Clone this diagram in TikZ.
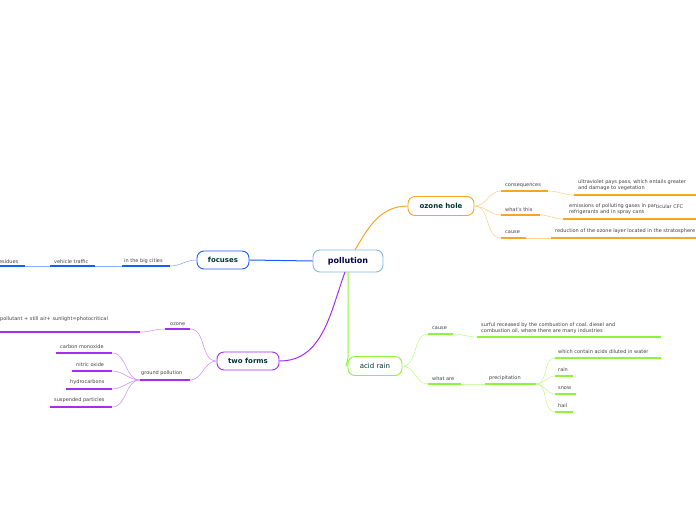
\documentclass[tikz,border=0pt]{standalone}
\usepackage{fontspec}
\setmainfont{DejaVu Sans}
\begin{document}
\begin{tikzpicture}[x=1pt,y=-1pt,
  lbl/.style={font=\fontsize{5}{6}\selectfont,text=black!75,inner sep=0pt,anchor=south west,align=left},
  main/.style={draw,rounded corners=7pt,line width=0.9pt,minimum height=20pt,font=\bfseries\fontsize{7}{8}\selectfont,text=teal!40!black},
  ul/.style={line width=1.4pt},
  cn/.style={line width=0.6pt}]
\useasboundingbox (0,0) rectangle (696,520);
\clip (0,0) rectangle (696,520);
\definecolor{cB}{HTML}{1A5CFF}\definecolor{cP}{HTML}{A52CF2}
\definecolor{cO}{HTML}{F5A623}\definecolor{cG}{HTML}{8CF53A}
\definecolor{cR}{HTML}{7FB8E6}
% central
\node[main,draw=cR,minimum width=70pt,minimum height=22pt,font=\bfseries\fontsize{8}{9}\selectfont,text=blue!30!black] (pol) at (348,261) {pollution};
\node[main,draw=cB,minimum width=52pt,minimum height=18pt] (foc) at (223,260) {focuses};
\node[main,draw=cP,minimum width=62pt,minimum height=18pt] (two) at (248,361) {two forms};
\node[main,draw=cO,minimum width=66pt,minimum height=19pt] (oz) at (441,206) {ozone hole};
\node[main,draw=cG,minimum width=54pt,minimum height=19pt,font=\fontsize{7}{8}\selectfont] (acid) at (375,366) {acid rain};
\draw[cB,line width=1pt] (foc.east) -- (pol.west);
\draw[cO,line width=1pt] (355,250) coordinate (p1) to[out=60,in=180] (oz.west);
\draw[cG,line width=1pt] (348,272) coordinate (p2) -- (348,358) to[out=-90,in=180] (acid.west);
\draw[cP,line width=1pt] (345,272) coordinate (p3) to[out=-110,in=0] (two.east);
% focuses branch
\draw[cB,ul] (122,266) coordinate (a1) -- (170,266) coordinate (a2);
\node[lbl] (t1) at (124,264) {in the big cities};
\draw[cB!50,cn] (foc.west) to[out=180,in=0] (a2);
\draw[cB,ul] (50,266) coordinate (b1) -- (95,266) coordinate (b2);
\node[lbl] (t2) at (54,264) {vehicle traffic};
\draw[cB!50,cn] (a1) -- (b2);
\draw[cB,ul] (-5,266) coordinate (c1) -- (25,266) coordinate (c2);
\node[lbl] (t3) at (-3,264) {residues};
\draw[cB!50,cn] (b1) -- (c2);
% two forms
\draw[cP,ul] (165,329) coordinate (o1) -- (190,329) coordinate (o2);
\node[lbl] (t4) at (170,326) {ozone};
\draw[cP!50,cn] (two.west) to[out=180,in=0] (o2);
\draw[cP,ul] (-5,332) coordinate (q1) -- (140,332) coordinate (q2);
\node[lbl] (t5) at (0,322) {pollutant + still air+ sunlight=photocritical};
\draw[cP!50,cn] (o1) to[out=180,in=0] (q2);
\draw[cP,ul] (140,380) coordinate (g1) -- (190,380) coordinate (g2);
\node[lbl] (t6) at (141,376) {ground pollution};
\draw[cP!50,cn] (two.west) to[out=180,in=0] (g2);
\foreach \n/\s/\y/\t in {cm/56/353/carbon monoxide,no/72/371/nitric oxide,hc/66/389/hydrocarbons,sp/50/407/suspended particles}{
  \draw[cP,ul] (\s,\y) -- (112,\y) coordinate (\n);
  \node[lbl] (l\n) at (\s+4,\y-4) {\t};
  \draw[cP!50,cn] (g1) to[out=180,in=0] (\n);
}
% ozone hole
\draw[cO,ul] (501,191) coordinate (h1) -- (548,191) coordinate (h2);
\node[lbl] (t7) at (505,188) {consequences};
\draw[cO!50,cn] (oz.east) to[out=0,in=180] (h1);
\draw[cO,ul] (574,195) coordinate (h3) -- (700,195);
\node[lbl] (t8) at (578,191) {ultraviolet pays pass, which entails greater\\and damage to vegetation};
\draw[cO!50,cn] (h2) to[out=0,in=180] (h3);
\draw[cO,ul] (501,215) coordinate (w1) -- (540,215) coordinate (w2);
\node[lbl] (t9) at (505,212) {what's this};
\draw[cO!50,cn] (oz.east) to[out=0,in=180] (w1);
\draw[cO,ul] (563,219) coordinate (w3) -- (700,219);
\node[lbl] (t10) at (569,215) {emissions of polluting gases in par\raisebox{-1pt}{ticular CFC}\\refrigerants and in spray cans};
\draw[cO!50,cn] (w2) to[out=0,in=180] (w3);
\draw[cO,ul] (501,238) coordinate (k1) -- (526,238) coordinate (k2);
\node[lbl] (t11) at (505,234) {cause};
\draw[cO!50,cn] (oz.east) to[out=0,in=180] (k1);
\draw[cO,ul] (551,238) coordinate (k3) -- (700,238);
\node[lbl] (t12) at (555,234) {reduction of the ozone layer located in the stratosphere};
\draw[cO!50,cn] (k2) -- (k3);
% acid rain
\draw[cG,ul] (428,334) coordinate (r1) -- (453,334) coordinate (r2);
\node[lbl] (t13) at (432,330) {cause};
\draw[cG!50,cn] (acid.east) to[out=0,in=180] (r1);
\draw[cG,ul] (477,337) coordinate (r3) -- (661,337);
\node[lbl] (t14) at (481,334) {surful receased by the combustion of coal, diesel and\\combustion oil, where there are many industries};
\draw[cG!50,cn] (r2) to[out=0,in=180] (r3);
\draw[cG,ul] (428,384) coordinate (s1) -- (461,384) coordinate (s2);
\node[lbl] (t15) at (432,381) {what are};
\draw[cG!50,cn] (acid.east) to[out=0,in=180] (s1);
\draw[cG,ul] (485,384) coordinate (s3) -- (536,384) coordinate (s4);
\node[lbl] (t16) at (489,381) {precipitation};
\draw[cG!40,line width=1pt] (s2) -- (s3);
\foreach \n/\e/\y/\t in {wc/661/358/which contain acids diluted in water,ra/573/376/rain,sn/576/394/snow,ha/573/412/hail}{
  \draw[cG,ul] (555,\y) coordinate (\n) -- (\e,\y);
  \node[lbl] (l\n) at (558,\y-4) {\t};
  \draw[cG!50,cn] (s4) to[out=0,in=180] (\n);
}
\end{tikzpicture}
\end{document}
